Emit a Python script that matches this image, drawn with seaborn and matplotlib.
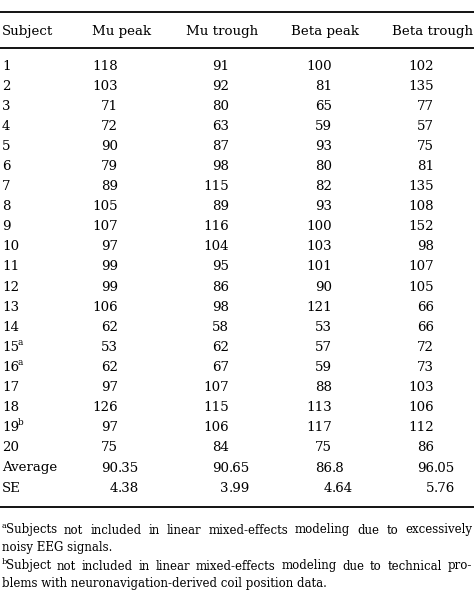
import matplotlib
matplotlib.use("Agg")
import matplotlib.pyplot as plt
import seaborn as sns

sns.set_theme(style="white")
plt.rcParams['font.family'] = ['DejaVu Serif']
plt.rcParams['text.color'] = 'black'

headers = ["Subject", "Mu peak", "Mu trough", "Beta peak", "Beta trough"]
subjects = ["1","2","3","4","5","6","7","8","9","10","11","12","13","14","15","16","17","18","19","20","Average","SE"]
sup = {"15": "a", "16": "a", "19": "b"}
mu_peak = ["118","103","71","72","90","79","89","105","107","97","99","99","106","62","53","62","97","126","97","75","90.35","4.38"]
mu_trough = ["91","92","80","63","87","98","115","89","116","104","95","86","98","58","62","67","107","115","106","84","90.65","3.99"]
beta_peak = ["100","81","65","59","93","80","82","93","100","103","101","90","121","53","57","59","88","113","117","75","86.8","4.64"]
beta_trough = ["102","135","77","57","75","81","135","108","152","98","107","105","66","66","72","73","103","106","112","86","96.05","5.76"]
footnotes = [("a", "Subjects not included in linear mixed-effects modeling due to excessively", True),
             (None, "noisy EEG signals.", False),
             ("b", "Subject not included in linear mixed-effects modeling due to technical pro-", True),
             (None, "blems with neuronavigation-derived coil position data.", False)]

W, H = 474, 591
fig = plt.figure(figsize=(W/100, H/100), dpi=100)
ax = fig.add_axes([0, 0, 1, 1])
ax.set_xlim(0, W); ax.set_ylim(H, 0); ax.axis("off")
renderer = fig.canvas.get_renderer()

fs = 9.6
for y in (12, 48, 507):
    ax.plot([0, 474], [y, y], color="black", lw=1.3)

hx = [2, 92, 186, 291, 392]
for x, h in zip(hx, headers):
    ax.text(x, 31, h, fontsize=fs, va="center", ha="left")

cols = [mu_peak, mu_trough, beta_peak, beta_trough]
int_right = [118, 229, 332, 434]
for i, s in enumerate(subjects):
    y = 66 + i * 20.1
    ax.text(2, y, s, fontsize=fs, va="center", ha="left")
    if s in sup:
        ax.text(2 + 7.5 * len(s) + 1, y - 5, sup[s], fontsize=6.5, va="center", ha="left")
    for col, xr in zip(cols, int_right):
        v = col[i]
        if "." in v:
            a, b = v.split(".")
            ax.text(xr, y, a, fontsize=fs, va="center", ha="right")
            ax.text(xr, y, "." + b, fontsize=fs, va="center", ha="left")
        else:
            ax.text(xr, y, v, fontsize=fs, va="center", ha="right")

ffs = 8.5
for j, (m, line, justify) in enumerate(footnotes):
    y = 530 + j * 18
    x = 2
    if m:
        ax.text(x, y - 4, m, fontsize=6, va="center", ha="left")
        x = 6
    if not justify:
        ax.text(x, y, line, fontsize=ffs, va="center", ha="left")
        continue
    words = line.split(" ")
    widths = []
    for w in words:
        t = ax.text(0, 0, w, fontsize=ffs)
        widths.append(t.get_window_extent(renderer).width)
        t.remove()
    gap = (472 - x - sum(widths)) / (len(words) - 1)
    for w, wd in zip(words, widths):
        ax.text(x, y, w, fontsize=ffs, va="center", ha="left")
        x += wd + gap

fig.savefig("out.png", dpi=100)
